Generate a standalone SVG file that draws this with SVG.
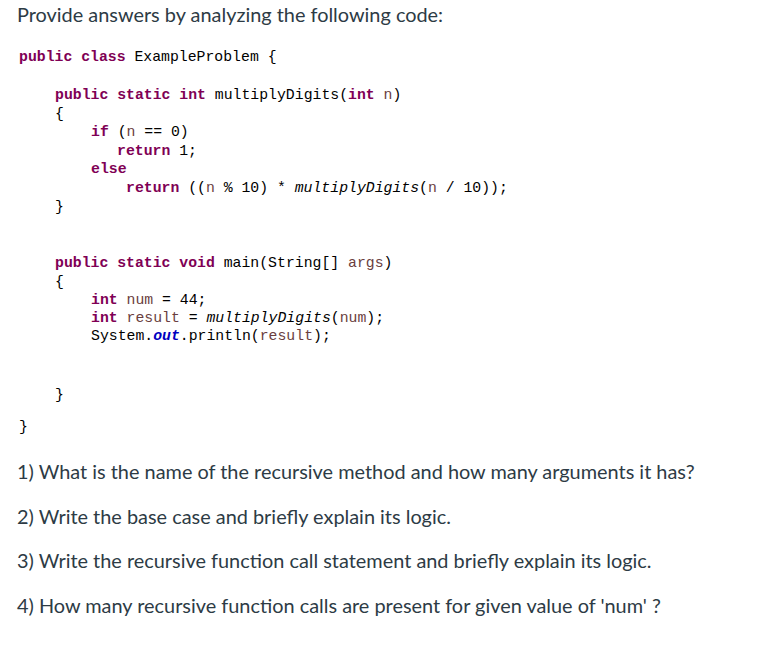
<svg xmlns="http://www.w3.org/2000/svg" width="762" height="655" viewBox="0 0 762 655">
<style>
.t{font-family:Lato,"Liberation Sans",sans-serif;font-size:19.9px;fill:#2d3b45}
.c{font-family:"Liberation Mono","DejaVu Sans Mono",monospace;font-size:14.8px;fill:#000;white-space:pre}
.k{fill:#7f0055;font-weight:bold}
.v{fill:#6a3e3e}
.i{font-style:italic}
.o{fill:#0000c0;font-style:italic;font-weight:bold}
</style>
<rect width="762" height="655" fill="#fff"/>
<text class="t" x="17" y="22">Provide answers by analyzing the following code:</text>
<g id="code" xml:space="preserve">
<text class="c" x="19" y="61"><tspan class="k">public class</tspan> ExampleProblem {</text>
<text class="c" x="55" y="99"><tspan class="k">public static int</tspan> multiplyDigits(<tspan class="k">int</tspan> <tspan class="v">n</tspan>)</text>
<text class="c" x="55" y="118">{</text>
<text class="c" x="91" y="136"><tspan class="k">if</tspan> (<tspan class="v">n</tspan> == 0)</text>
<text class="c" x="117" y="155"><tspan class="k">return</tspan> 1;</text>
<text class="c" x="91" y="173"><tspan class="k">else</tspan></text>
<text class="c" x="126" y="192"><tspan class="k">return</tspan> ((<tspan class="v">n</tspan> % 10) * <tspan class="i">multiplyDigits</tspan>(<tspan class="v">n</tspan> / 10));</text>
<text class="c" x="55" y="211">}</text>
<text class="c" x="55" y="267"><tspan class="k">public static void</tspan> main(String[] <tspan class="v">args</tspan>)</text>
<text class="c" x="55" y="286">{</text>
<text class="c" x="91" y="304"><tspan class="k">int</tspan> <tspan class="v">num</tspan> = 44;</text>
<text class="c" x="91" y="322"><tspan class="k">int</tspan> <tspan class="v">result</tspan> = <tspan class="i">multiplyDigits</tspan>(<tspan class="v">num</tspan>);</text>
<text class="c" x="91" y="340">System.<tspan class="o">out</tspan>.println(<tspan class="v">result</tspan>);</text>
<text class="c" x="55" y="399">}</text>
<text class="c" x="19" y="431">}</text>
</g>
<text class="t" x="17" y="479">1) What is the name of the recursive method and how many arguments it has?</text>
<text class="t" x="17" y="524">2) Write the base case and briefly explain its logic.</text>
<text class="t" x="17" y="568">3) Write the recursive function call statement and briefly explain its logic.</text>
<text class="t" x="17" y="613">4) How many recursive function calls are present for given value of 'num' ?</text>
</svg>
